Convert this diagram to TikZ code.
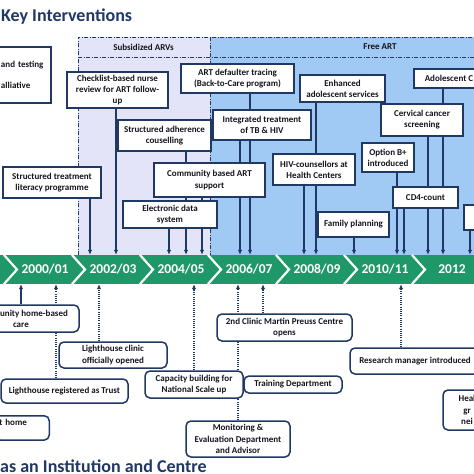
\documentclass[tikz,border=0pt]{standalone}
\usepackage{fontspec}
\setmainfont{Carlito}
\usetikzlibrary{arrows.meta}

\definecolor{navy}{RGB}{31,56,100}
\definecolor{ink}{RGB}{20,20,30}
\definecolor{subfill}{RGB}{228,228,248}
\definecolor{freefill}{RGB}{160,201,244}
\definecolor{tlgreen}{RGB}{30,152,104}

\pgfdeclarelayer{under}
\pgfsetlayers{under,main}

\newcommand\boxfont{\fontsize{9}{11.2}\selectfont\bfseries}

\tikzset{
  ibox/.style={draw=navy, line width=1.5pt, fill=white, text=ink, font=\boxfont, align=center, inner sep=2pt},
  obox/.style={ibox, rounded corners=5pt},
  hdr/.style={text=ink, font=\boxfont},
  yearlbl/.style={text=white, font=\fontsize{13.5}{15}\selectfont\bfseries},
  chev/.style={draw=white, line width=2.2pt},
  tobar/.style={draw=navy, line width=1.2pt, -{Latex[length=5pt,width=4.5pt]}},
  frombar/.style={tobar, dash pattern=on 1.1pt off 1.1pt},
  bandline/.style={draw=navy, line width=0.9pt, dash pattern=on 4pt off 1.5pt on 1pt off 1.5pt},
  heading/.style={text=navy, font=\fontsize{18}{20}\selectfont\bfseries, inner sep=0pt, anchor=base west},
}

\begin{document}
\begin{tikzpicture}[x=1pt,y=-1pt]
\useasboundingbox (0,0) rectangle (474,474);

% titles
\node[heading] (kt) at (1,21.7) {Key Interventions};
\node[heading] (it) at (0,472) {as an Institution and Centre};

% period headers
\node[hdr] (sub) at (143.5,47) {Subsidized ARVs};
\node[hdr] (free) at (380,47) {Free ART};

% interventions above the timeline
\node[ibox, text width=47pt, align=left, inner xsep=3pt, minimum height=56pt] (tst) at (24.5,75) {and testing\\[10.5pt]alliative};
\node[ibox, minimum width=101pt, minimum height=36pt] (chk) at (117.5,90) {Checklist-based nurse\\review for ART follow-\\up};
\node[ibox, minimum width=113pt, minimum height=29pt] (dft) at (237.5,78.5) {ART defaulter tracing\\(Back-to-Care program)};
\node[ibox, minimum width=85pt, minimum height=27pt] (enh) at (342.5,88.5) {Enhanced\\adolescent services};
\node[ibox, anchor=west, inner xsep=11pt, minimum height=19pt] (ado) at (413,78.5) {Adolescent C};
\node[ibox, minimum width=98pt, minimum height=30pt] (itb) at (262,125) {Integrated treatment\\of TB \& HIV};
\node[ibox, minimum width=93pt, minimum height=31pt] (adh) at (164.5,135.5) {Structured adherence\\couselling};
\node[ibox, minimum width=82pt, minimum height=32pt] (cer) at (422,120) {Cervical cancer\\screening};
\node[ibox, minimum width=52pt, minimum height=29pt] (opt) at (388,157.5) {Option B+\\introduced};
\node[ibox, minimum width=82pt, minimum height=31pt] (hiv) at (314,169.5) {HIV-counsellors at\\Health Centers};
\node[ibox, minimum width=98pt, minimum height=31pt] (lit) at (52,182.5) {Structured treatment\\literacy programme};
\node[ibox, minimum width=111pt, minimum height=34pt] (cbs) at (209.5,180) {Community based ART\\support};
\node[ibox, minimum width=65pt, minimum height=21pt] (cdf) at (425.5,197.5) {CD4-count};
\node[ibox, minimum width=94pt, minimum height=27pt] (eds) at (170,214.5) {Electronic data\\system};
\node[ibox, minimum width=71pt, minimum height=25pt] (fam) at (353.5,224.5) {Family planning};
\node[ibox, anchor=west, minimum width=30pt, minimum height=25pt] (rgt) at (463,217.5) {};

% timeline
\node[fill=tlgreen, minimum width=500pt, minimum height=29pt, inner sep=0pt, anchor=west] (tl) at (-10,269.5) {};
\begin{scope}
\clip (tl.north west) rectangle (tl.south east);
\draw[chev] (4,255) -- (17,269.5) -- (4,284);
\draw[chev] (72,255) -- (85,269.5) -- (72,284);
\draw[chev] (140,255) -- (153,269.5) -- (140,284);
\draw[chev] (208,255) -- (221,269.5) -- (208,284);
\draw[chev] (276,255) -- (289,269.5) -- (276,284);
\draw[chev] (344,255) -- (357,269.5) -- (344,284);
\draw[chev] (412,255) -- (425,269.5) -- (412,284);
\end{scope}
\node[yearlbl] (y00) at (45,269.5) {2000/01};
\node[yearlbl] (y02) at (113,269.5) {2002/03};
\node[yearlbl] (y04) at (181,269.5) {2004/05};
\node[yearlbl] (y06) at (249,269.5) {2006/07};
\node[yearlbl] (y08) at (317,269.5) {2008/09};
\node[yearlbl] (y10) at (385,269.5) {2010/11};
\node[yearlbl] (y12) at (452,269.5) {2012};

% milestones below the timeline
\node[obox, minimum width=90pt, minimum height=27pt] (chb) at (34,318.5) {unity home-based\\\makebox[42pt][l]{care}};
\node[obox, minimum width=108pt, minimum height=26pt] (lcl) at (113,355) {Lighthouse clinic\\officially opened};
\node[obox, minimum width=127pt, minimum height=24pt] (trs) at (64.5,391) {Lighthouse registered as Trust};
\node[obox, anchor=north east, text width=46pt, align=left, inner xsep=4pt, inner ysep=3.5pt, text depth=11pt] (thm) at (50,415) {t home};
\node[obox, minimum width=135pt, minimum height=27pt] (msc) at (284.5,327.5) {2nd Clinic Martin Preuss Centre\\opens};
\node[obox, minimum width=98pt, minimum height=27pt] (cap) at (194,384.5) {Capacity building for\\National Scale up};
\node[obox, minimum width=98pt, minimum height=17pt] (trn) at (293,384.5) {Training Department};
\node[obox, minimum width=104pt, minimum height=36pt] (mon) at (238,439) {Monitoring \&\\Evaluation Department\\and Advisor};
\node[obox, minimum width=130pt, minimum height=26pt] (rmg) at (415,361) {Research manager introduced};
\node[obox, minimum width=48pt, minimum height=40pt] (hlt) at (467,410) {Heal\\gr\\nei};

\begin{pgfonlayer}{under}
\fill[white] (0,0) rectangle (474,474);
\fill[subfill] (78,37) rectangle (210,255);
\fill[freefill] (210,37) rectangle (490,255);
\draw[bandline] (78,255) -- (78,37) -- (490,37);
\draw[bandline] (78,57) -- (490,57);
\draw[bandline] (210,37) -- (210,255);

% links into the timeline
\draw[tobar] (90,0 |- lit.south) -- (90,0 |- tl.north);
\draw[tobar] (116,0 |- chk.south) -- (116,0 |- tl.north);
\draw[tobar] (169,0 |- eds.south) -- (169,0 |- tl.north);
\draw[tobar] (186,0 |- adh.south) -- (186,0 |- tl.north);
\draw[tobar] (202,0 |- cbs.south) -- (202,0 |- tl.north);
\draw[tobar] (240,0 |- itb.south) -- (240,0 |- tl.north);
\draw[tobar] (250,0 |- dft.south) -- (250,0 |- tl.north);
\draw[tobar] (304,0 |- hiv.south) -- (304,0 |- tl.north);
\draw[tobar] (316,0 |- enh.south) -- (316,0 |- tl.north);
\draw[tobar] (354,0 |- fam.south) -- (354,0 |- tl.north);
\draw[tobar] (397,0 |- opt.south) -- (397,0 |- tl.north);
\draw[tobar] (404,0 |- cdf.south) -- (404,0 |- tl.north);
\draw[tobar] (428,0 |- cer.south) -- (428,0 |- tl.north);
\draw[tobar] (443,0 |- ado.south) -- (443,0 |- tl.north);
\draw[tobar] (470,0 |- rgt.south) -- (470,0 |- tl.north);

% links from the milestones
\draw[tobar] (21,0 |- chb.north) -- (21,0 |- tl.south);
\draw[frombar] (56,0 |- trs.north) -- (56,0 |- tl.south);
\draw[frombar] (99,0 |- lcl.north) -- (99,0 |- tl.south);
\draw[frombar] (194,0 |- cap.north) -- (194,0 |- tl.south);
\draw[frombar] (238,0 |- mon.north) -- (238,0 |- tl.south);
\draw[frombar] (263,0 |- msc.north) -- (263,0 |- tl.south);
\draw[frombar] (401,0 |- rmg.north) -- (401,0 |- tl.south);
\end{pgfonlayer}
\end{tikzpicture}
\end{document}
